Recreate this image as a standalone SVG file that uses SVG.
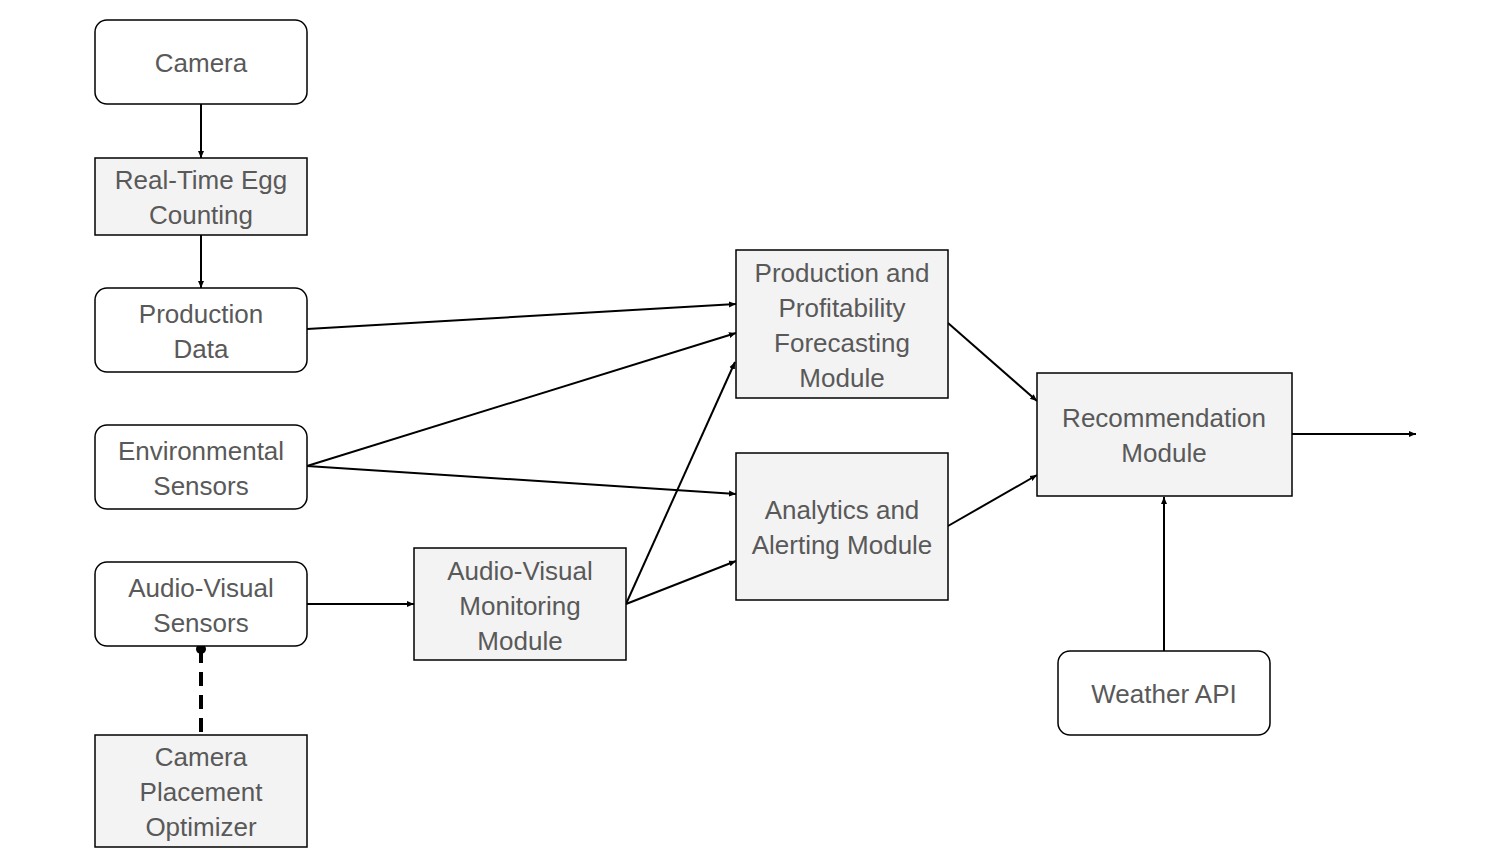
<svg xmlns="http://www.w3.org/2000/svg" width="1509" height="868" viewBox="0 0 1509 868">
<style>
.n{fill:#fff;stroke:#000;stroke-width:1.5}
.m{fill:#f3f3f3;stroke:#000;stroke-width:1.5}
text{font-family:"Liberation Sans",Arial,sans-serif;font-size:26px;fill:#595959;text-anchor:middle}
.c line{stroke:#000;stroke-width:2;marker-end:url(#a)}
</style>
<defs><marker id="a" markerWidth="8" markerHeight="8" refX="7" refY="4" orient="auto" markerUnits="userSpaceOnUse"><path d="M0,1L7,4L0,7z" fill="#000"/></marker></defs>
<rect width="1509" height="868" fill="#fff"/>
<g class="c">
<line x1="201" y1="104" x2="201" y2="158"/>
<line x1="201" y1="235" x2="201" y2="288"/>
<line x1="307" y1="329" x2="736" y2="304"/>
<line x1="307" y1="466" x2="736" y2="333"/>
<line x1="307" y1="466" x2="736" y2="494"/>
<line x1="307" y1="604" x2="414" y2="604"/>
<line x1="626" y1="604" x2="735" y2="362"/>
<line x1="626" y1="604" x2="736" y2="561"/>
<line x1="948" y1="323" x2="1037" y2="401"/>
<line x1="948" y1="526" x2="1037" y2="475"/>
<line x1="1292" y1="434" x2="1416" y2="434"/>
<line x1="1164" y1="651" x2="1164" y2="497"/>
<path d="M201,649V735" stroke="#000" stroke-width="4" stroke-dasharray="14,9" fill="none"/>
<circle cx="201" cy="649" r="5" fill="#000"/>
</g>
<g id="camera"><rect class="n" x="95" y="20" width="212" height="84" rx="12"/><text x="201" y="72">Camera</text></g>
<g id="egg"><rect class="m" x="95" y="158" width="212" height="77"/><text x="201" y="189">Real-Time Egg</text><text x="201" y="224">Counting</text></g>
<g id="prod"><rect class="n" x="95" y="288" width="212" height="84" rx="12"/><text x="201" y="323">Production</text><text x="201" y="358">Data</text></g>
<g id="env"><rect class="n" x="95" y="425" width="212" height="84" rx="12"/><text x="201" y="460">Environmental</text><text x="201" y="495">Sensors</text></g>
<g id="avs"><rect class="n" x="95" y="562" width="212" height="84" rx="12"/><text x="201" y="597">Audio-Visual</text><text x="201" y="632">Sensors</text></g>
<g id="cpo"><rect class="m" x="95" y="735" width="212" height="112"/><text x="201" y="766">Camera</text><text x="201" y="801">Placement</text><text x="201" y="836">Optimizer</text></g>
<g id="avm"><rect class="m" x="414" y="548" width="212" height="112"/><text x="520" y="580">Audio-Visual</text><text x="520" y="615">Monitoring</text><text x="520" y="650">Module</text></g>
<g id="ppf"><rect class="m" x="736" y="250" width="212" height="148"/><text x="842" y="282">Production and</text><text x="842" y="317">Profitability</text><text x="842" y="352">Forecasting</text><text x="842" y="387">Module</text></g>
<g id="aa"><rect class="m" x="736" y="453" width="212" height="147"/><text x="842" y="519">Analytics and</text><text x="842" y="554">Alerting Module</text></g>
<g id="rec"><rect class="m" x="1037" y="373" width="255" height="123"/><text x="1164" y="427">Recommendation</text><text x="1164" y="462">Module</text></g>
<g id="weather"><rect class="n" x="1058" y="651" width="212" height="84" rx="12"/><text x="1164" y="703">Weather API</text></g>
</svg>
